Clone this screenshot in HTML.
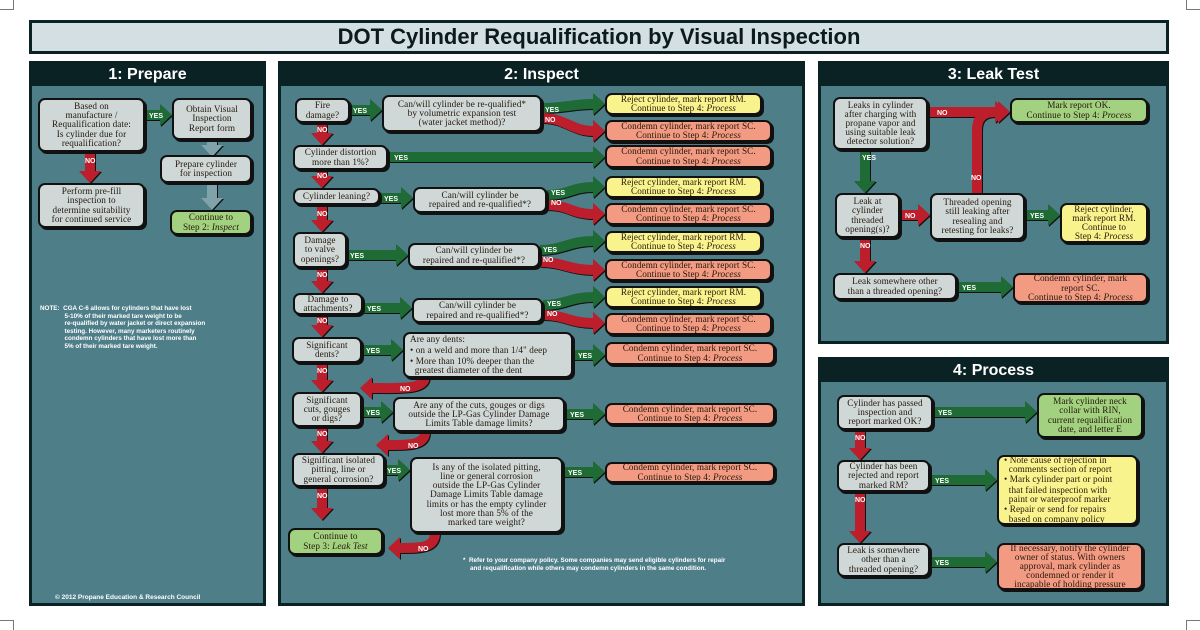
<!DOCTYPE html>
<html><head><meta charset="utf-8"><style>
*{margin:0;padding:0;box-sizing:border-box}
body{width:1200px;height:630px;background:#fff;position:relative;overflow:hidden;font-family:"Liberation Serif",serif}
.a{position:absolute}
.title{left:29px;top:20px;width:1140px;height:34px;background:#d4dfe3;border:3px solid #0b2225;font:bold 22px "Liberation Sans",sans-serif;color:#0b1a1c;text-align:center;line-height:28px}
.panel{background:#4e7e88;border:3px solid #0b2225}
.hd{position:absolute;left:0;top:0;right:0;height:22px;background:#0b2225;color:#fff;font:bold 16px "Liberation Sans",sans-serif;text-align:center;line-height:22px}
.b{position:absolute;display:flex;align-items:center;justify-content:center;text-align:center;border:2px solid #111;border-radius:7px;box-shadow:2px 2px 0 #111;background:#cfd8d6;color:#24160c;font-size:9.2px;line-height:0.98;padding:0 2px;white-space:nowrap;letter-spacing:0.1px}
.b p{margin:0}
.y{background:#f8f38c}.s{background:#f29b82}.g{background:#a2d17f}
.l{justify-content:flex-start;text-align:left;padding-left:5px}
.w{position:absolute;color:#fff;font:bold 6.3px "Liberation Sans",sans-serif;line-height:1.2;white-space:nowrap}
svg{position:absolute;left:0;top:0}
</style></head><body>
<div class="a" style="left:0;top:0;width:14px;height:10px;border-right:1px solid #777;border-bottom:1px solid #777"></div>
<div class="a" style="left:0;top:620px;width:14px;height:10px;border-right:1px solid #777;border-top:1px solid #777"></div>
<div class="a" style="left:1186px;top:0;width:14px;height:10px;border-left:1px solid #777;border-bottom:1px solid #777"></div>
<div class="a" style="left:1186px;top:620px;width:14px;height:10px;border-left:1px solid #777;border-top:1px solid #777"></div>
<div class="a title">DOT Cylinder Requalification by Visual Inspection</div>
<div class="a panel" style="left:29px;top:61px;width:237px;height:545px"><div class="hd">1: Prepare</div></div>
<div class="a panel" style="left:278px;top:61px;width:527px;height:545px"><div class="hd">2: Inspect</div></div>
<div class="a panel" style="left:818px;top:61px;width:351px;height:283px"><div class="hd">3: Leak Test</div></div>
<div class="a panel" style="left:818px;top:357px;width:351px;height:249px"><div class="hd">4: Process</div></div>

<svg width="1200" height="630">
<defs>
<marker id="mg" viewBox="0 0 12 22" refX="0" refY="11" markerWidth="1.2" markerHeight="2.2" orient="auto"><path d="M0,0L12,11L0,22z" fill="#1f6b35"/></marker>
<marker id="mr" viewBox="0 0 12 22" refX="0" refY="11" markerWidth="1.2" markerHeight="2.2" orient="auto"><path d="M0,0L12,11L0,22z" fill="#bd1e2c"/></marker>
<marker id="mx" viewBox="0 0 12 22" refX="0" refY="11" markerWidth="1.2" markerHeight="2.2" orient="auto"><path d="M0,0L12,11L0,22z" fill="#80a2aa"/></marker>
</defs>
<g fill="none" stroke-width="10" style="filter:drop-shadow(1.5px 1.5px 0 #111)">
<g stroke="#1f6b35" marker-end="url(#mg)">
<path d="M145,115H160"/>
<path d="M350,110H370"/><path d="M388,157H593"/><path d="M380,198H401"/><path d="M347,255H396"/><path d="M363,308H400"/><path d="M362,350H391"/><path d="M362,412H381"/><path d="M385,470H398"/>
<path d="M542,108C565,108 572,104 593,104"/><path d="M547,195C568,195 572,187 593,187"/><path d="M540,250C562,250 570,241 593,241"/><path d="M543,305C565,305 570,297 593,297"/>
<path d="M573,355H593"/><path d="M565,414H593"/><path d="M563,472H593"/>
<path d="M865,150V181"/><path d="M1025,215H1048"/><path d="M957,287H1001"/>
<path d="M933,412H1025"/><path d="M930,480H985"/><path d="M930,562H985"/>
</g>
<g stroke="#bd1e2c" marker-end="url(#mr)">
<path d="M90,152V171"/>
<path d="M322,123V133"/><path d="M322,170V176"/><path d="M322,205V220"/><path d="M322,268V281"/><path d="M322,315V325"/><path d="M322,363V380"/><path d="M322,427V441"/><path d="M322,487V508"/>
<path d="M542,118C565,118 572,131 593,131"/><path d="M547,205C568,205 572,214 593,214"/><path d="M540,262C562,262 570,270 593,270"/><path d="M543,315C565,315 570,323 593,323"/>
<path d="M425,376C425,390 400,388 372,388"/><path d="M425,432C425,446 405,445 388,445"/><path d="M435,533C435,548 420,548 400,548"/>
<path d="M928,112H998"/><path d="M977,193V130Q977,112 995,112"/><path d="M900,215H918"/><path d="M865,238V261"/>
<path d="M860,430V448"/><path d="M860,492V531"/>
</g>
<g stroke="#80a2aa" marker-end="url(#mx)"><path d="M212,140V145"/><path d="M212,183V198"/></g>
</g>
<g fill="#fff" font-family="Liberation Sans,sans-serif" font-weight="bold" font-size="7">
<text x="149" y="118">YES</text><text x="85" y="163">NO</text>
<text x="353" y="113">YES</text><text x="394" y="160">YES</text><text x="384" y="201">YES</text><text x="350" y="258">YES</text><text x="367" y="311">YES</text><text x="366" y="353">YES</text><text x="366" y="415">YES</text><text x="387" y="473">YES</text>
<text x="545" y="112">YES</text><text x="545" y="122">NO</text><text x="551" y="195">YES</text><text x="551" y="205">NO</text><text x="543" y="252">YES</text><text x="543" y="262">NO</text><text x="547" y="306">YES</text><text x="547" y="316">NO</text>
<text x="578" y="358">YES</text><text x="570" y="417">YES</text><text x="568" y="475">YES</text>
<text x="317" y="132">NO</text><text x="317" y="178">NO</text><text x="317" y="216">NO</text><text x="317" y="277">NO</text><text x="317" y="323">NO</text><text x="317" y="373">NO</text><text x="317" y="436">NO</text><text x="317" y="498">NO</text>
<text x="400" y="391">NO</text><text x="408" y="448">NO</text><text x="418" y="551">NO</text>
<text x="937" y="115">NO</text><text x="971" y="180">NO</text><text x="905" y="218">NO</text><text x="1030" y="218">YES</text><text x="860" y="248">NO</text><text x="862" y="160">YES</text><text x="962" y="290">YES</text>
<text x="938" y="415">YES</text><text x="855" y="440">NO</text><text x="935" y="483">YES</text><text x="855" y="502">NO</text><text x="935" y="565">YES</text>
</g>
</svg>

<div class="b" style="left:38px;top:98px;width:107px;height:54px"><p>Based on<br>manufacture /<br>Requalification date:<br>Is cylinder due for<br>requalification?</p></div>
<div class="b" style="left:172px;top:98px;width:80px;height:42px"><p>Obtain Visual<br>Inspection<br>Report form</p></div>
<div class="b" style="left:160px;top:155px;width:92px;height:28px"><p>Prepare cylinder<br>for inspection</p></div>
<div class="b" style="left:38px;top:183px;width:107px;height:45px"><p>Perform pre-fill<br>inspection to<br>determine suitability<br>for continued service</p></div>
<div class="b g" style="left:170px;top:210px;width:82px;height:25px"><p>Continue to<br>Step 2: <i>Inspect</i></p></div>
<div class="w" style="left:40px;top:305px">NOTE:&nbsp; CGA C-6 allows for cylinders that have lost<br>&nbsp;&nbsp;&nbsp;&nbsp;&nbsp;&nbsp;&nbsp;&nbsp;&nbsp;&nbsp;&nbsp;&nbsp;&nbsp; 5-10% of their marked tare weight to be<br>&nbsp;&nbsp;&nbsp;&nbsp;&nbsp;&nbsp;&nbsp;&nbsp;&nbsp;&nbsp;&nbsp;&nbsp;&nbsp; re-qualified by water jacket or direct expansion<br>&nbsp;&nbsp;&nbsp;&nbsp;&nbsp;&nbsp;&nbsp;&nbsp;&nbsp;&nbsp;&nbsp;&nbsp;&nbsp; testing. However, many marketers routinely<br>&nbsp;&nbsp;&nbsp;&nbsp;&nbsp;&nbsp;&nbsp;&nbsp;&nbsp;&nbsp;&nbsp;&nbsp;&nbsp; condemn cylinders that have lost more than<br>&nbsp;&nbsp;&nbsp;&nbsp;&nbsp;&nbsp;&nbsp;&nbsp;&nbsp;&nbsp;&nbsp;&nbsp;&nbsp; 5% of their marked tare weight.</div>
<div class="w" style="left:55px;top:594px;font-size:6.5px">© 2012 Propane Education &amp; Research Council</div>

<div class="b" style="left:295px;top:98px;width:55px;height:25px"><p>Fire<br>damage?</p></div>
<div class="b" style="left:382px;top:95px;width:160px;height:37px"><p>Can/will cylinder be re-qualified*<br>by volumetric expansion test<br>(water jacket method)?</p></div>
<div class="b y" style="left:605px;top:93px;width:157px;height:22px"><p>Reject cylinder, mark report RM.<br>Continue to Step 4: <i>Process</i></p></div>
<div class="b s" style="left:605px;top:120px;width:167px;height:22px"><p>Condemn cylinder, mark report SC.<br>Continue to Step 4: <i>Process</i></p></div>
<div class="b" style="left:293px;top:145px;width:95px;height:25px"><p>Cylinder distortion<br>more than 1%?</p></div>
<div class="b s" style="left:605px;top:145px;width:167px;height:23px"><p>Condemn cylinder, mark report SC.<br>Continue to Step 4: <i>Process</i></p></div>
<div class="b" style="left:293px;top:188px;width:87px;height:17px"><p>Cylinder leaning?</p></div>
<div class="b" style="left:413px;top:187px;width:134px;height:26px"><p>Can/will cylinder be<br>repaired and re-qualified*?</p></div>
<div class="b y" style="left:605px;top:176px;width:157px;height:22px"><p>Reject cylinder, mark report RM.<br>Continue to Step 4: <i>Process</i></p></div>
<div class="b s" style="left:605px;top:203px;width:167px;height:22px"><p>Condemn cylinder, mark report SC.<br>Continue to Step 4: <i>Process</i></p></div>
<div class="b" style="left:293px;top:232px;width:54px;height:36px"><p>Damage<br>to valve<br>openings?</p></div>
<div class="b" style="left:408px;top:243px;width:132px;height:25px"><p>Can/will cylinder be<br>repaired and re-qualified*?</p></div>
<div class="b y" style="left:605px;top:231px;width:157px;height:22px"><p>Reject cylinder, mark report RM.<br>Continue to Step 4: <i>Process</i></p></div>
<div class="b s" style="left:605px;top:259px;width:167px;height:22px"><p>Condemn cylinder, mark report SC.<br>Continue to Step 4: <i>Process</i></p></div>
<div class="b" style="left:293px;top:293px;width:70px;height:22px"><p>Damage to<br>attachments?</p></div>
<div class="b" style="left:412px;top:298px;width:131px;height:25px"><p>Can/will cylinder be<br>repaired and re-qualified*?</p></div>
<div class="b y" style="left:605px;top:286px;width:157px;height:22px"><p>Reject cylinder, mark report RM.<br>Continue to Step 4: <i>Process</i></p></div>
<div class="b s" style="left:605px;top:313px;width:167px;height:22px"><p>Condemn cylinder, mark report SC.<br>Continue to Step 4: <i>Process</i></p></div>
<div class="b" style="left:292px;top:337px;width:70px;height:26px"><p>Significant<br>dents?</p></div>
<div class="b l" style="left:403px;top:332px;width:170px;height:46px"><p>Are any dents:<br><span style="line-height:1.45">• on a weld and more than 1/4" deep</span><br>• More than 10% deeper than the<br>&nbsp;&nbsp;greatest diameter of the dent</p></div>
<div class="b s" style="left:605px;top:342px;width:170px;height:23px"><p>Condemn cylinder, mark report SC.<br>Continue to Step 4: <i>Process</i></p></div>
<div class="b" style="left:292px;top:392px;width:70px;height:35px"><p>Significant<br>cuts, gouges<br>or digs?</p></div>
<div class="b" style="left:393px;top:397px;width:172px;height:35px"><p>Are any of the cuts, gouges or digs<br>outside the LP-Gas Cylinder Damage<br>Limits Table damage limits?</p></div>
<div class="b s" style="left:605px;top:403px;width:170px;height:22px"><p>Condemn cylinder, mark report SC.<br>Continue to Step 4: <i>Process</i></p></div>
<div class="b" style="left:292px;top:453px;width:93px;height:34px"><p>Significant isolated<br>pitting, line or<br>general corrosion?</p></div>
<div class="b" style="left:410px;top:457px;width:153px;height:76px"><p>Is any of the isolated pitting,<br>line or general corrosion<br>outside the LP-Gas Cylinder<br>Damage Limits Table damage<br>limits or has the empty cylinder<br>lost more than 5% of the<br>marked tare weight?</p></div>
<div class="b s" style="left:605px;top:462px;width:170px;height:21px"><p>Condemn cylinder, mark report SC.<br>Continue to Step 4: <i>Process</i></p></div>
<div class="b g" style="left:288px;top:528px;width:95px;height:27px"><p>Continue to<br>Step 3: <i>Leak Test</i></p></div>
<div class="w" style="left:463px;top:557px">*&nbsp; Refer to your company policy. Some companies may send eligible cylinders for repair<br>&nbsp;&nbsp;&nbsp; and requalification while others may condemn cylinders in the same condition.</div>

<div class="b" style="left:833px;top:97px;width:95px;height:53px"><p>Leaks in cylinder<br>after charging with<br>propane vapor and<br>using suitable leak<br>detector solution?</p></div>
<div class="b g" style="left:1010px;top:98px;width:138px;height:25px"><p>Mark report OK.<br>Continue to Step 4: <i>Process</i></p></div>
<div class="b" style="left:835px;top:193px;width:65px;height:45px"><p>Leak at<br>cylinder<br>threaded<br>opening(s)?</p></div>
<div class="b" style="left:930px;top:193px;width:95px;height:47px"><p>Threaded opening<br>still leaking after<br>resealing and<br>retesting for leaks?</p></div>
<div class="b y" style="left:1060px;top:203px;width:88px;height:40px"><p>Reject cylinder,<br>mark report RM.<br>Continue to<br>Step 4: <i>Process</i></p></div>
<div class="b" style="left:833px;top:273px;width:124px;height:27px"><p>Leak somewhere other<br>than a threaded opening?</p></div>
<div class="b s" style="left:1013px;top:273px;width:135px;height:30px"><p>Condemn cylinder, mark<br>report SC.<br>Continue to Step 4: <i>Process</i></p></div>

<div class="b" style="left:837px;top:395px;width:96px;height:35px"><p>Cylinder has passed<br>inspection and<br>report marked OK?</p></div>
<div class="b g" style="left:1037px;top:393px;width:106px;height:45px"><p>Mark cylinder neck<br>collar with RIN,<br>current requalification<br>date, and letter E</p></div>
<div class="b" style="left:837px;top:460px;width:93px;height:32px"><p>Cylinder has been<br>rejected and report<br>marked RM?</p></div>
<div class="b y l" style="left:997px;top:455px;width:141px;height:70px"><p>• Note cause of rejection in<br>&nbsp;&nbsp;comments section of report<br><span style="line-height:1.3">• Mark cylinder part or point</span><br>&nbsp;&nbsp;that failed inspection with<br>&nbsp;&nbsp;paint or waterproof marker<br><span style="line-height:1.3">• Repair or send for repairs</span><br>&nbsp;&nbsp;based on company policy</p></div>
<div class="b" style="left:837px;top:543px;width:93px;height:34px"><p>Leak is somewhere<br>other than a<br>threaded opening?</p></div>
<div class="b s" style="left:997px;top:543px;width:146px;height:47px"><p>If necessary, notify the cylinder<br>owner of status. With owners<br>approval, mark cylinder as<br>condemned or render it<br>incapable of holding pressure</p></div>
</body></html>
